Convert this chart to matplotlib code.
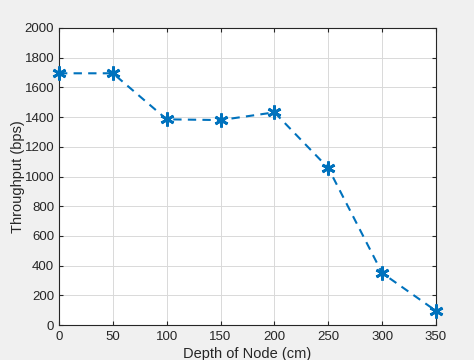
import matplotlib
matplotlib.use("Agg")
import matplotlib.pyplot as plt

depth = [0, 50, 100, 150, 200, 250, 300, 350]
throughput = [1695, 1695, 1385, 1380, 1432, 1057, 350, 95]
xticks = [0, 50, 100, 150, 200, 250, 300, 350]
yticks = [0, 200, 400, 600, 800, 1000, 1200, 1400, 1600, 1800, 2000]

plt.rcParams['font.family'] = ['Liberation Sans', 'DejaVu Sans']
fig = plt.figure(figsize=(4.74, 3.6), dpi=100, facecolor='#f0f0f0')
ax = fig.add_axes([59/474, 1-325/360, (436-59)/474, (325-28)/360])
ax.set_facecolor('white')
ax.plot(depth, throughput, linestyle='--', color='#0072BD', marker=(6, 2, 0),
        markersize=10, markeredgewidth=2, linewidth=1.5, dashes=(4, 3),
        clip_on=False, zorder=3)
ax.set_xlim(0, 350)
ax.set_ylim(0, 2000)
ax.set_xticks(xticks)
ax.set_yticks(yticks)
ax.grid(True, color='#d9d9d9', linewidth=0.7)
ax.set_axisbelow(True)
for s in ax.spines.values():
    s.set_color('#262626')
    s.set_linewidth(0.8)
ax.tick_params(axis='both', direction='in', length=3, colors='#262626',
               labelsize=9.5, top=True, right=True, labeltop=False, labelright=False)
ax.tick_params(axis='x', pad=4)
ax.set_xlabel('Depth of Node (cm)', fontsize=10.5, color='#262626', labelpad=3)
ax.set_ylabel('Throughput (bps)', fontsize=10.5, color='#262626', labelpad=0)
fig.savefig('out.png', dpi=100, facecolor=fig.get_facecolor())
